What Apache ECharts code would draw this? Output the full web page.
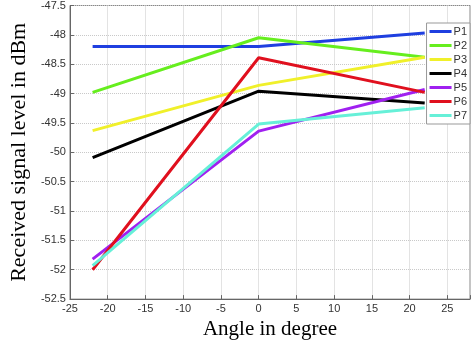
<!DOCTYPE html>
<html>
<head>
<meta charset="utf-8">
<script src="https://cdn.jsdelivr.net/npm/echarts@6/dist/echarts.min.js"></script>
<style>
  html, body { margin: 0; padding: 0; background: #fff; }
  #chart { width: 474px; height: 345px; }
</style>
</head>
<body>
<div id="chart"></div>
<script>
// Measurement angles (degrees)
const angles = [-22, 0, 22];

// Received signal level (dBm) per position
const seriesNames = ['P1', 'P2', 'P3', 'P4', 'P5', 'P6', 'P7'];
const P1 = [-48.2, -48.2, -47.97];
const P2 = [-48.98, -48.05, -48.38];
const P3 = [-49.63, -48.86, -48.38];
const P4 = [-50.09, -48.96, -49.16];
const P5 = [-51.82, -49.64, -48.93];
const P6 = [-52.0, -48.39, -48.98];
const P7 = [-51.93, -49.52, -49.24];
const seriesValues = [P1, P2, P3, P4, P5, P6, P7];

const colors = ['#1f3fe0', '#66ee1e', '#f0f02a', '#000000', '#a020f0', '#e0101e', '#66f0d8'];

const chart = echarts.init(document.getElementById('chart'));

const tickFont = { fontFamily: 'Liberation Sans, Arial, sans-serif', fontSize: 11, color: '#333' };

chart.setOption({
  animation: false,
  grid: {
    left: 52, right: 4, top: 5, bottom: 35,
    show: true, borderColor: '#888', borderWidth: 1, backgroundColor: '#fff'
  },
  legend: {
    orient: 'vertical',
    right: 4, top: 23,
    backgroundColor: '#fff',
    borderColor: '#999', borderWidth: 1,
    padding: [2, 3, 2, 3],
    itemWidth: 22, itemHeight: 3, itemGap: 1,
    icon: 'rect',
    textStyle: { fontFamily: 'Liberation Sans, Arial, sans-serif', fontSize: 11, color: '#333', padding: [0, 0, 0, -3], lineHeight: 13 },
    data: seriesNames
  },
  xAxis: {
    type: 'value',
    min: -25, max: 28, interval: 5,
    name: 'Angle in degree',
    nameLocation: 'middle',
    nameGap: 16,
    nameTextStyle: { fontFamily: 'Liberation Serif, Times New Roman, serif', fontSize: 21, color: '#000' },
    axisLine: { show: true, onZero: false, lineStyle: { color: '#666' } },
    axisTick: { show: true, inside: true, length: 4, lineStyle: { color: '#666' } },
    axisLabel: Object.assign({ margin: 4, formatter: v => (v > 25 ? '' : String(v)) }, tickFont),
    splitLine: { show: true, lineStyle: { color: '#c8c8c8', type: 'dotted' } }
  },
  yAxis: {
    type: 'value',
    min: -52.5, max: -47.5, interval: 0.5,
    name: 'Received signal level in dBm',
    nameLocation: 'middle',
    nameRotate: 90,
    nameGap: 32,
    nameTextStyle: { fontFamily: 'Liberation Serif, Times New Roman, serif', fontSize: 22, color: '#000' },
    axisLine: { show: true, onZero: false, lineStyle: { color: '#666' } },
    axisTick: { show: true, inside: true, length: 4, lineStyle: { color: '#666' } },
    axisLabel: Object.assign({ margin: 4 }, tickFont),
    splitLine: { show: true, lineStyle: { color: '#c8c8c8', type: 'dotted' } }
  },
  series: seriesNames.map((name, i) => ({
    name: name,
    type: 'line',
    data: angles.map((a, j) => [a, seriesValues[i][j]]),
    showSymbol: false,
    symbol: 'none',
    color: colors[i],
    lineStyle: { width: 3, color: colors[i] }
  }))
});
</script>
</body>
</html>
